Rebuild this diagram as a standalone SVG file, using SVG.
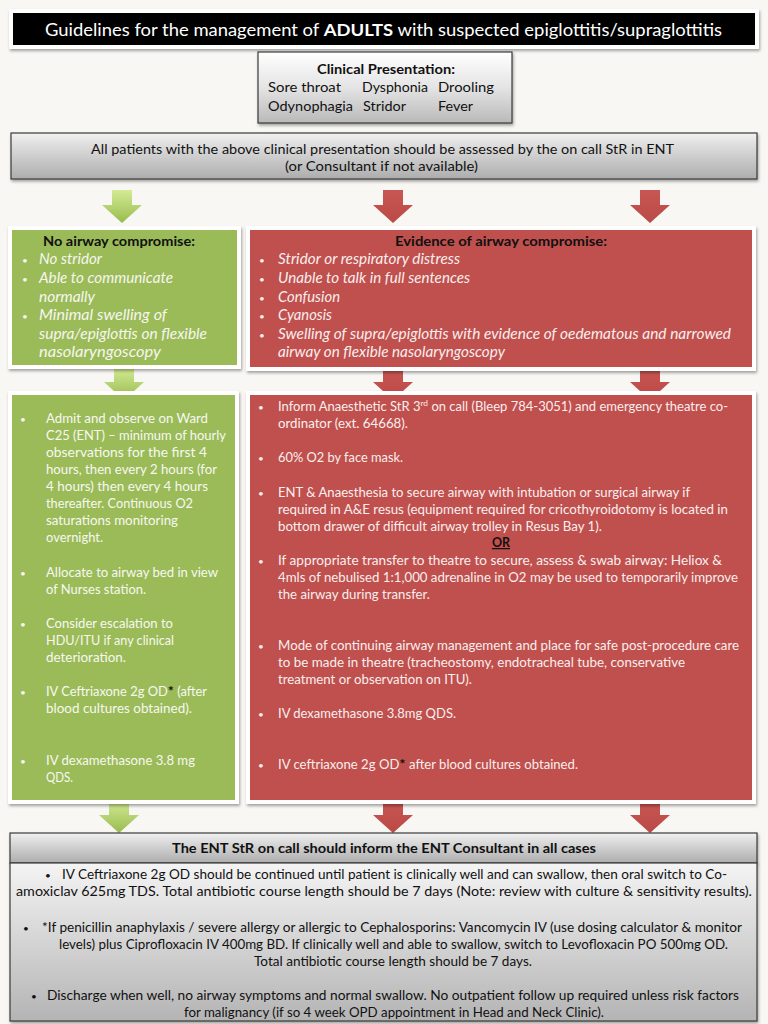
<svg xmlns="http://www.w3.org/2000/svg" width="768" height="1024" viewBox="0 0 768 1024">
<style>
text{font-family:Lato,"Open Sans","Liberation Sans",sans-serif;}
.t{font-size:13px;fill:#111;}
.b{font-weight:bold;}
.gi{font-size:14.5px;font-style:italic;fill:#f6f6ee;}
.ri{font-size:14.5px;font-style:italic;fill:#f8eeee;}
.g2{font-size:12.5px;fill:#f6f8f0;}
.r2{font-size:12.5px;fill:#f8eeee;}
.bul{font-size:10px;font-style:normal;}
.bk{fill:#111;font-weight:bold;}
.frame{fill:#ffffff;filter:url(#sh);}
.green{fill:#9bbb59;}
.red{fill:#c0504d;}
.gray{stroke:#3a3a3a;stroke-width:1.2;filter:url(#sh);}
</style>
<defs>
<linearGradient id="gg1" x1="0" y1="0" x2="0" y2="1">
<stop offset="0" stop-color="#ffffff"/><stop offset="0.5" stop-color="#e4e4e4"/><stop offset="1" stop-color="#b9b9b9"/>
</linearGradient>
<linearGradient id="gg2" x1="0" y1="0" x2="0" y2="1">
<stop offset="0" stop-color="#f2f2f2"/><stop offset="0.2" stop-color="#e2e2e2"/><stop offset="1" stop-color="#adadad"/>
</linearGradient>
<linearGradient id="gg3" x1="0" y1="0" x2="0" y2="1">
<stop offset="0" stop-color="#f4f4f4"/><stop offset="1" stop-color="#b4b4b4"/>
</linearGradient>
<linearGradient id="ga" x1="0" y1="0" x2="0" y2="1">
<stop offset="0" stop-color="#d4eb96"/><stop offset="1" stop-color="#98bb4e"/>
</linearGradient>
<linearGradient id="ra" x1="0" y1="0" x2="0" y2="1">
<stop offset="0" stop-color="#c85653"/><stop offset="1" stop-color="#bb4a47"/>
</linearGradient>
<filter id="sh" x="-5%" y="-10%" width="110%" height="130%">
<feDropShadow dx="1" dy="2" stdDeviation="1.5" flood-color="#000" flood-opacity="0.35"/>
</filter>
<path id="arr" d="M-10,0 H10 V15 H20 L0,33 L-20,15 H-10 Z"/>
</defs>
<rect width="768" height="1024" fill="#f8f7f3"/>

<g id="title">
<rect class="frame" x="9" y="9" width="750" height="40"/>
<rect x="13" y="13" width="742" height="32" fill="#000"/>
<text x="383.5" y="36" text-anchor="middle" font-size="17" fill="#fff" textLength="677" lengthAdjust="spacingAndGlyphs">Guidelines for the management of <tspan font-weight="bold">ADULTS</tspan> with suspected epiglottitis/supraglottitis</text>
</g>

<g id="clinical">
<rect class="gray" x="258" y="52" width="254" height="71" fill="url(#gg1)"/>
<text class="t b" x="386" y="74" text-anchor="middle" textLength="138" lengthAdjust="spacingAndGlyphs">Clinical Presentation:</text>
<text class="t" x="268" y="92" textLength="73" lengthAdjust="spacingAndGlyphs">Sore throat</text>
<text class="t" x="362" y="92" textLength="66" lengthAdjust="spacingAndGlyphs">Dysphonia</text>
<text class="t" x="438" y="92" textLength="56" lengthAdjust="spacingAndGlyphs">Drooling</text>
<text class="t" x="268" y="111" textLength="85" lengthAdjust="spacingAndGlyphs">Odynophagia</text>
<text class="t" x="363" y="111" textLength="43" lengthAdjust="spacingAndGlyphs">Stridor</text>
<text class="t" x="438" y="111" textLength="35" lengthAdjust="spacingAndGlyphs">Fever</text>
</g>

<g id="assess">
<rect class="gray" x="11" y="133" width="746" height="46" fill="url(#gg2)"/>
<text class="t" x="91" y="154" textLength="583" lengthAdjust="spacingAndGlyphs">All patients with the above clinical presentation should be assessed by the on call StR in ENT</text>
<text class="t" x="285" y="171" textLength="193" lengthAdjust="spacingAndGlyphs">(or Consultant if not available)</text>
</g>

<g id="connectors">
<use href="#arr" x="122" y="190" fill="url(#ga)"/>
<use href="#arr" x="393" y="190" fill="url(#ra)"/>
<use href="#arr" x="650" y="190" fill="url(#ra)"/>
<use href="#arr" x="124" y="367" fill="url(#ga)"/>
<use href="#arr" x="393" y="367" fill="url(#ra)"/>
<use href="#arr" x="650" y="367" fill="url(#ra)"/>
<use href="#arr" x="119" y="800" fill="url(#ga)"/>
<use href="#arr" x="393" y="800" fill="url(#ra)"/>
<use href="#arr" x="650" y="800" fill="url(#ra)"/>
</g>

<g id="no-compromise">
<rect class="frame" x="8" y="226" width="233" height="143"/>
<rect class="green" x="12" y="230" width="225" height="135"/>
<text class="t b" x="43" y="246" textLength="152" lengthAdjust="spacingAndGlyphs">No airway compromise:</text>
<g class="gi">
<text class="bul" x="22" y="264">•</text>
<text x="39" y="264" textLength="63" lengthAdjust="spacingAndGlyphs">No stridor</text>
<text class="bul" x="22" y="283">•</text>
<text x="39" y="283" textLength="134" lengthAdjust="spacingAndGlyphs">Able to communicate</text>
<text x="39" y="302" textLength="56" lengthAdjust="spacingAndGlyphs">normally</text>
<text class="bul" x="22" y="320">•</text>
<text x="39" y="320" textLength="128" lengthAdjust="spacingAndGlyphs">Minimal swelling of</text>
<text x="39" y="339" textLength="168" lengthAdjust="spacingAndGlyphs">supra/epiglottis on flexible</text>
<text x="39" y="357" textLength="122" lengthAdjust="spacingAndGlyphs">nasolaryngoscopy</text>
</g>
</g>

<g id="compromise">
<rect class="frame" x="246" y="226" width="510" height="145"/>
<rect class="red" x="250" y="230" width="502" height="137"/>
<text class="t b" x="395" y="246" textLength="212" lengthAdjust="spacingAndGlyphs">Evidence of airway compromise:</text>
<g class="ri">
<text class="bul" x="259" y="264">•</text>
<text x="278" y="264" textLength="182" lengthAdjust="spacingAndGlyphs">Stridor or respiratory distress</text>
<text class="bul" x="259" y="283">•</text>
<text x="278" y="283" textLength="192" lengthAdjust="spacingAndGlyphs">Unable to talk in full sentences</text>
<text class="bul" x="259" y="302">•</text>
<text x="278" y="302" textLength="62" lengthAdjust="spacingAndGlyphs">Confusion</text>
<text class="bul" x="259" y="320">•</text>
<text x="278" y="320" textLength="54" lengthAdjust="spacingAndGlyphs">Cyanosis</text>
<text class="bul" x="259" y="339">•</text>
<text x="278" y="339" textLength="453" lengthAdjust="spacingAndGlyphs">Swelling of supra/epiglottis with evidence of oedematous and narrowed</text>
<text x="278" y="357" textLength="227" lengthAdjust="spacingAndGlyphs">airway on flexible nasolaryngoscopy</text>
</g>
</g>

<g id="ward-care">
<rect class="frame" x="8" y="391" width="231" height="413"/>
<rect class="green" x="12" y="395" width="223" height="405"/>
<g class="g2">
<text class="bul" x="20" y="423">•</text>
<text x="46" y="423" textLength="162" lengthAdjust="spacingAndGlyphs">Admit and observe on Ward</text>
<text x="46" y="440" textLength="180" lengthAdjust="spacingAndGlyphs">C25 (ENT) – minimum of hourly</text>
<text x="46" y="457" textLength="161" lengthAdjust="spacingAndGlyphs">observations  for  the  first 4</text>
<text x="46" y="474" textLength="171" lengthAdjust="spacingAndGlyphs">hours, then every 2 hours (for</text>
<text x="46" y="491" textLength="162" lengthAdjust="spacingAndGlyphs">4 hours)  then every 4 hours</text>
<text x="46" y="508" textLength="147" lengthAdjust="spacingAndGlyphs">thereafter. Continuous O2</text>
<text x="46" y="525" textLength="132" lengthAdjust="spacingAndGlyphs">saturations monitoring</text>
<text x="46" y="542" textLength="57" lengthAdjust="spacingAndGlyphs">overnight.</text>
<text class="bul" x="20" y="577">•</text>
<text x="46" y="577" textLength="172" lengthAdjust="spacingAndGlyphs">Allocate to airway bed in view</text>
<text x="46" y="594" textLength="100" lengthAdjust="spacingAndGlyphs">of Nurses station.</text>
<text class="bul" x="20" y="628">•</text>
<text x="46" y="628" textLength="127" lengthAdjust="spacingAndGlyphs">Consider escalation to</text>
<text x="46" y="645" textLength="128" lengthAdjust="spacingAndGlyphs">HDU/ITU if any clinical</text>
<text x="46" y="662" textLength="80" lengthAdjust="spacingAndGlyphs">deterioration.</text>
<text class="bul" x="20" y="696">•</text>
<text x="46" y="696" textLength="161" lengthAdjust="spacingAndGlyphs">IV Ceftriaxone 2g OD<tspan class="bk" font-size="14">*</tspan> (after</text>
<text x="46" y="713" textLength="146" lengthAdjust="spacingAndGlyphs">blood cultures obtained).</text>
<text class="bul" x="20" y="765">•</text>
<text x="46" y="765" textLength="149" lengthAdjust="spacingAndGlyphs">IV dexamethasone 3.8 mg</text>
<text x="46" y="782" textLength="27" lengthAdjust="spacingAndGlyphs">QDS.</text>
</g>
</g>

<g id="emergency-care">
<rect class="frame" x="246" y="391" width="510" height="413"/>
<rect class="red" x="250" y="395" width="502" height="405"/>
<g class="r2">
<text class="bul" x="258" y="411">•</text>
<text x="278" y="411" textLength="450" lengthAdjust="spacingAndGlyphs">Inform Anaesthetic StR 3<tspan font-size="8" baseline-shift="super">rd</tspan> on call (Bleep 784-3051) and emergency theatre co-</text>
<text x="278" y="428" textLength="130" lengthAdjust="spacingAndGlyphs">ordinator (ext. 64668).</text>
<text class="bul" x="258" y="462">•</text>
<text x="278" y="462" textLength="125" lengthAdjust="spacingAndGlyphs">60% O2 by face mask.</text>
<text class="bul" x="258" y="497">•</text>
<text x="278" y="497" textLength="412" lengthAdjust="spacingAndGlyphs">ENT &amp; Anaesthesia to secure airway with intubation or surgical airway if</text>
<text x="278" y="514" textLength="450" lengthAdjust="spacingAndGlyphs">required in A&amp;E resus (equipment required for cricothyroidotomy is located in</text>
<text x="278" y="531" textLength="324" lengthAdjust="spacingAndGlyphs">bottom drawer of difficult airway trolley in Resus Bay 1).</text>
<text x="501" y="547" text-anchor="middle" font-weight="bold" fill="#111" text-decoration="underline">OR</text>
<text class="bul" x="258" y="565">•</text>
<text x="278" y="565" textLength="444" lengthAdjust="spacingAndGlyphs">If appropriate transfer to  theatre to secure, assess &amp;  swab airway: Heliox  &amp;</text>
<text x="278" y="582" textLength="460" lengthAdjust="spacingAndGlyphs">4mls of nebulised 1:1,000 adrenaline in O2  may be used to temporarily improve</text>
<text x="278" y="599" textLength="152" lengthAdjust="spacingAndGlyphs">the airway during transfer.</text>
<text class="bul" x="258" y="650">•</text>
<text x="278" y="650" textLength="461" lengthAdjust="spacingAndGlyphs">Mode of continuing airway management and place for safe post-procedure care</text>
<text x="278" y="667" textLength="407" lengthAdjust="spacingAndGlyphs">to be made in theatre (tracheostomy, endotracheal tube, conservative</text>
<text x="278" y="684" textLength="194" lengthAdjust="spacingAndGlyphs">treatment or observation on ITU).</text>
<text class="bul" x="258" y="718">•</text>
<text x="278" y="718" textLength="178" lengthAdjust="spacingAndGlyphs">IV dexamethasone 3.8mg QDS.</text>
<text class="bul" x="258" y="769">•</text>
<text x="278" y="769" textLength="300" lengthAdjust="spacingAndGlyphs">IV ceftriaxone 2g OD<tspan class="bk" font-size="14">*</tspan> after blood cultures obtained.</text>
</g>
</g>

<g id="inform-consultant">
<rect class="gray" x="10" y="833" width="747" height="30" fill="url(#gg2)"/>
<text class="t b" x="384" y="853" text-anchor="middle" textLength="424" lengthAdjust="spacingAndGlyphs">The ENT StR on call should inform the ENT Consultant in all cases</text>
</g>

<g id="antibiotics">
<rect class="gray" x="10" y="863" width="747" height="158" fill="url(#gg3)"/>
<g class="t" font-size="12.5">
<text class="bul" x="45" y="879">•</text>
<text x="62" y="879" textLength="665" lengthAdjust="spacingAndGlyphs">IV Ceftriaxone 2g OD should be continued until patient is clinically well and can swallow, then oral switch to Co-</text>
<text x="16" y="896" textLength="736" lengthAdjust="spacingAndGlyphs">amoxiclav 625mg TDS. Total antibiotic course length should be 7 days (Note: review with culture &amp; sensitivity results).</text>
<text class="bul" x="23" y="932">•</text>
<text x="42" y="932" textLength="700" lengthAdjust="spacingAndGlyphs">*If penicillin anaphylaxis / severe allergy or allergic to Cephalosporins: Vancomycin IV (use dosing calculator &amp; monitor</text>
<text x="59" y="949" textLength="669" lengthAdjust="spacingAndGlyphs">levels) plus Ciprofloxacin IV 400mg BD. If clinically well and able to swallow, switch to Levofloxacin PO 500mg OD.</text>
<text x="254" y="966" textLength="278" lengthAdjust="spacingAndGlyphs">Total antibiotic course length should be 7 days.</text>
<text class="bul" x="31" y="1000">•</text>
<text x="47" y="1000" textLength="692" lengthAdjust="spacingAndGlyphs">Discharge when well, no airway symptoms and normal swallow. No outpatient follow up required  unless risk factors</text>
<text x="184" y="1017" textLength="420" lengthAdjust="spacingAndGlyphs">for malignancy (if so 4 week OPD appointment in Head and Neck Clinic).</text>
</g>
</g>
</svg>
